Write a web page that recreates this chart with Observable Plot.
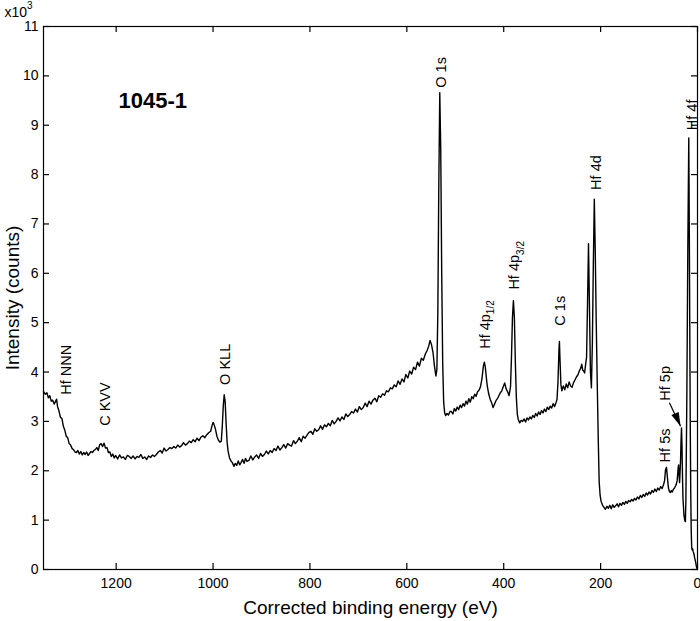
<!DOCTYPE html>
<html>
<head>
<meta charset="utf-8">
<script src="https://cdn.jsdelivr.net/npm/d3@7"></script>
<script src="https://cdn.jsdelivr.net/npm/@observablehq/plot@0.6"></script>
<style>
  body { margin: 0; background: #fff; }
  svg { display: block; }
</style>
</head>
<body>
<div id="chart"></div>
<script>
// XPS survey spectrum of sample 1045-1 (intensity in thousands of counts)
const bindingEnergy = [
  1350,1346,1343,1340,1337,1334,1331,1328,1325,1323,1321,1318,1315,1312,1309,1306,1303,1300,1297,1294,
  1291,1288,1285,1282,1279,1276,1273,1270,1267,1264,1261,1258,1255,1252,1249,1246,1243,1240,1237,1234,
  1231,1228,1225,1222,1219,1216,1213,1210,1207,1204,1201,1197,1193,1189,1185,1181,1177,1173,1169,1165,
  1161,1157,1153,1149,1145,1141,1137,1133,1129,1125,1121,1117,1113,1109,1105,1101,1097,1093,1089,1085,
  1081,1077,1073,1069,1065,1061,1057,1053,1049,1045,1041,1037,1033,1029,1025,1021,1017,1013,1009,1005,
  1002,1000,998,995,992,989,986,983,981,979,977,975,973,971,969,966,963,960,957,954,
  951,948,945,942,939,936,933,930,926,922,918,914,910,906,902,898,894,890,886,882,
  878,874,870,866,862,858,854,850,846,842,838,834,830,826,822,818,814,810,806,802,
  798,794,790,786,782,778,774,770,766,762,758,754,750,746,742,738,734,730,726,722,
  718,714,710,706,702,698,694,690,686,682,678,674,670,666,662,658,654,650,646,642,
  638,634,630,626,622,618,614,610,606,602,598,594,590,586,582,578,574,570,566,562,
  558,555,552,549,546,543,540,538,536,534,532,530,528,526,524,522,520,517,514,511,
  508,505,502,499,496,493,490,487,484,481,478,475,472,469,466,463,460,457,454,451,
  448,445,442,440,438,436,434,431,428,425,422,419,416,413,410,407,404,401,398,395,
  392,389,386,384,382,380,378,376,374,372,370,367,364,361,358,355,352,349,346,343,
  340,337,334,331,328,325,322,319,316,313,310,307,304,301,298,295,292,290,288,286,
  285,284,282,280,277,274,271,268,265,262,259,256,253,250,247,244,241,239,237,235,
  233,231,229,227,225,223,221,219,217,215,213,211,209,207,205,203,201,199,196,193,
  190,187,184,181,178,175,172,169,166,163,160,157,154,151,148,145,142,139,136,133,
  130,127,124,121,118,115,112,109,106,103,100,97,94,91,88,85,82,79,76,73,
  70,68,66,64,62,60,58,56,54,52,50,47,44,42,40,39,38,37,35,34,
  33,32,31,30,28,26,25,24,22,20,18,17,16,15,14,13,12,11,10,9,
  8,7,6,5,4,3,2,1,0
];
const intensity = [
  3.60,3.55,3.58,3.48,3.52,3.41,3.43,3.35,3.41,3.45,3.30,3.21,3.08,3.06,2.90,2.82,2.70,2.67,2.55,2.52,
  2.45,2.43,2.38,2.37,2.41,2.34,2.39,2.32,2.37,2.33,2.38,2.31,2.35,2.39,2.37,2.41,2.43,2.47,2.41,2.53,
  2.55,2.49,2.56,2.46,2.47,2.37,2.38,2.29,2.34,2.26,2.31,2.24,2.32,2.26,2.28,2.23,2.31,2.29,2.25,2.30,
  2.24,2.29,2.27,2.33,2.25,2.28,2.23,2.30,2.27,2.32,2.29,2.33,2.38,2.41,2.36,2.46,2.40,2.43,2.47,2.45,
  2.49,2.46,2.52,2.48,2.51,2.57,2.52,2.55,2.60,2.57,2.63,2.59,2.66,2.61,2.68,2.71,2.67,2.73,2.77,2.80,
  2.92,2.98,2.94,2.84,2.70,2.62,2.58,2.60,2.90,3.30,3.54,3.40,2.95,2.58,2.40,2.26,2.20,2.16,2.09,2.15,
  2.11,2.20,2.12,2.17,2.23,2.15,2.25,2.19,2.21,2.30,2.22,2.28,2.32,2.25,2.35,2.29,2.33,2.40,2.34,2.41,
  2.37,2.45,2.41,2.50,2.42,2.47,2.53,2.46,2.55,2.52,2.50,2.61,2.55,2.60,2.67,2.59,2.70,2.66,2.72,2.78,
  2.80,2.74,2.85,2.80,2.83,2.91,2.84,2.93,2.89,2.96,2.91,3.02,2.95,3.00,3.07,3.01,3.09,3.04,3.15,3.10,
  3.14,3.20,3.17,3.25,3.19,3.30,3.24,3.28,3.37,3.30,3.41,3.35,3.43,3.47,3.40,3.52,3.49,3.56,3.53,3.62,
  3.60,3.68,3.66,3.74,3.70,3.82,3.75,3.86,3.80,3.95,3.88,4.02,3.96,4.10,4.05,4.20,4.12,4.28,4.24,4.36,
  4.44,4.52,4.64,4.55,4.40,4.12,3.92,4.05,5.20,7.80,9.66,8.50,6.00,4.20,3.40,3.18,3.12,3.16,3.13,3.20,
  3.20,3.15,3.26,3.21,3.29,3.24,3.33,3.28,3.36,3.31,3.41,3.35,3.46,3.39,3.50,3.46,3.55,3.51,3.60,3.63,
  3.70,3.86,4.12,4.20,4.10,3.90,3.72,3.56,3.45,3.38,3.28,3.35,3.42,3.46,3.52,3.58,3.62,3.70,3.78,3.66,
  3.60,3.52,3.70,4.30,5.10,5.45,5.10,4.20,3.50,3.15,3.04,2.97,3.02,3.00,3.05,2.99,3.07,3.03,3.09,3.05,
  3.12,3.08,3.16,3.11,3.19,3.14,3.22,3.17,3.25,3.20,3.29,3.24,3.31,3.27,3.36,3.30,3.38,3.45,3.80,4.45,
  4.62,4.30,3.75,3.62,3.72,3.64,3.76,3.68,3.80,3.72,3.69,3.78,3.84,3.90,3.94,4.02,4.08,4.16,4.04,4.02,
  3.98,4.15,4.30,5.40,6.60,5.30,4.00,3.68,4.60,6.20,7.50,6.40,5.00,3.80,2.70,1.78,1.50,1.38,1.30,1.26,
  1.22,1.28,1.24,1.30,1.23,1.31,1.26,1.29,1.33,1.27,1.34,1.30,1.36,1.32,1.38,1.34,1.40,1.37,1.42,1.39,
  1.44,1.41,1.47,1.43,1.50,1.46,1.52,1.48,1.55,1.51,1.57,1.53,1.60,1.56,1.63,1.58,1.65,1.61,1.68,1.64,
  1.72,1.80,2.02,2.07,1.85,1.65,1.58,1.56,1.60,1.57,1.62,1.66,1.72,1.80,2.05,2.12,1.90,1.76,2.20,2.60,
  2.87,2.50,1.90,1.45,1.10,0.98,0.97,1.40,3.50,6.50,8.74,7.00,5.00,3.00,1.60,0.80,0.45,0.40,0.42,0.36,
  0.34,0.30,0.24,0.20,0.16,0.10,0.05,0.02,0.00
];

// Axis ticks
const energyTicks = [0, 200, 400, 600, 800, 1000, 1200];
const intensityTicks = [0, 1, 2, 3, 4, 5, 6, 7, 8, 9, 10, 11];

// Peak assignments: name, subscript, and where the label starts (eV, kcounts)
const peakNames = ["Hf NNN", "C KVV", "O KLL", "O 1s", "Hf 4p", "Hf 4p", "C 1s", "Hf 4d", "Hf 4f", "Hf 5p", "Hf 5s"];
const peakSubscripts = ["", "", "", "", "1/2", "3/2", "", "", "", "", ""];
const peakLabelEnergy = [1302, 1223, 975, 529, 438, 378, 283, 209, 11, 66, 66];
const peakLabelIntensity = [3.54, 2.91, 3.74, 9.76, 4.47, 5.67, 4.94, 7.69, 8.9, 3.42, 2.17];

// Pointer from the Hf 5p label to its peak
const pointerFrom = {energy: 58, intensity: 3.38};
const pointerTo = {energy: 35, intensity: 2.9};

const sampleName = "1045-1";

const spectrum = bindingEnergy.map((e, i) => ({energy: e, counts: intensity[i]}));
const peakLabels = peakNames.map((name, i) => ({
  text: peakSubscripts[i] ? `${name}|${peakSubscripts[i]}` : name,
  energy: peakLabelEnergy[i],
  counts: peakLabelIntensity[i]
}));

// Filled, narrow arrowhead with its tip at the origin, pointing up
const arrowHead = {
  draw(context) {
    context.moveTo(0, 0);
    context.lineTo(4, 14);
    context.lineTo(-4, 14);
    context.closePath();
  }
};

// Chart geometry
const W = 700, H = 621;
const M = {left: 43, right: 3, top: 26, bottom: 52};
const frameW = W - M.left - M.right;
const frameH = H - M.top - M.bottom;
const tickLen = 6;

const font = "'Liberation Sans', Arial, Helvetica, sans-serif";
const tickStyle = {stroke: "#000", strokeWidth: 1.2};

const chart = Plot.plot({
  width: W,
  height: H,
  marginLeft: M.left,
  marginRight: M.right,
  marginTop: M.top,
  marginBottom: M.bottom,
  x: {domain: [1350, 0]},
  y: {domain: [0, 11]},
  style: {fontFamily: font, fontSize: "14px", color: "#000", background: "#fff"},
  marks: [
    // inward ticks on all four sides
    Plot.tickX(energyTicks, {x: d => d, insetTop: frameH - tickLen, ...tickStyle}),
    Plot.tickX(energyTicks, {x: d => d, insetBottom: frameH - tickLen, ...tickStyle}),
    Plot.tickY(intensityTicks, {y: d => d, insetRight: frameW - tickLen, ...tickStyle}),
    Plot.tickY(intensityTicks, {y: d => d, insetLeft: frameW - tickLen, ...tickStyle}),
    Plot.frame({stroke: "#000", strokeWidth: 1.2}),
    // tick labels
    Plot.axisX(energyTicks, {tickSize: 0, tickPadding: 9, fontSize: 14, tickFormat: d => String(d), label: null}),
    Plot.axisY(intensityTicks, {tickSize: 0, tickPadding: 5, fontSize: 14, tickFormat: d => String(d), label: null}),
    // spectrum
    Plot.line(spectrum, {x: "energy", y: "counts", stroke: "#000", strokeWidth: 1.4}),
    // peak labels
    Plot.text(peakLabels, {
      x: "energy", y: "counts", text: "text",
      rotate: -90, textAnchor: "start", fontSize: 14.5, fill: "#000"
    }),
    // Hf 5p pointer
    Plot.link([0], {
      x1: () => pointerFrom.energy, y1: () => pointerFrom.intensity,
      x2: () => pointerTo.energy, y2: () => pointerTo.intensity,
      stroke: "#000", strokeWidth: 1.2
    }),
    Plot.dot([0], {
      x: () => pointerTo.energy, y: () => pointerTo.intensity,
      symbol: arrowHead, fill: "#000", stroke: "none", rotate: 157
    }),
    // sample name
    Plot.text([sampleName], {
      x: () => 1195, y: () => 9.5, text: d => d,
      textAnchor: "start", fontSize: 22, fontWeight: "bold", fill: "#000"
    }),
    // axis titles and multiplier
    Plot.text(["Intensity (counts)"], {
      frameAnchor: "left", text: d => d, rotate: -90, dx: -31,
      textAnchor: "middle", lineAnchor: "middle", fontSize: 19, fill: "#000"
    }),
    Plot.text(["Corrected binding energy (eV)"], {
      frameAnchor: "bottom", text: d => d, dy: 38,
      textAnchor: "middle", lineAnchor: "middle", fontSize: 19, fill: "#000"
    }),
    Plot.text(["x10|3"], {
      frameAnchor: "top-left", text: d => d, textAnchor: "start", lineAnchor: "middle",
      dx: -39, dy: -14, fontSize: 14, fill: "#000"
    })
  ]
});

// Turn "main|script" labels into proper sub/superscripts
d3.select(chart).selectAll("text").each(function () {
  const el = d3.select(this);
  const content = this.textContent;
  if (!content.includes("|")) return;
  const [main, script] = content.split("|");
  const isPower = main.startsWith("x10");
  el.text(main);
  el.append("tspan")
    .attr("font-size", 10)
    .attr("dy", isPower ? "-0.75em" : "0.45em")
    .text(script);
});

document.getElementById("chart").append(chart);
</script>
</body>
</html>
